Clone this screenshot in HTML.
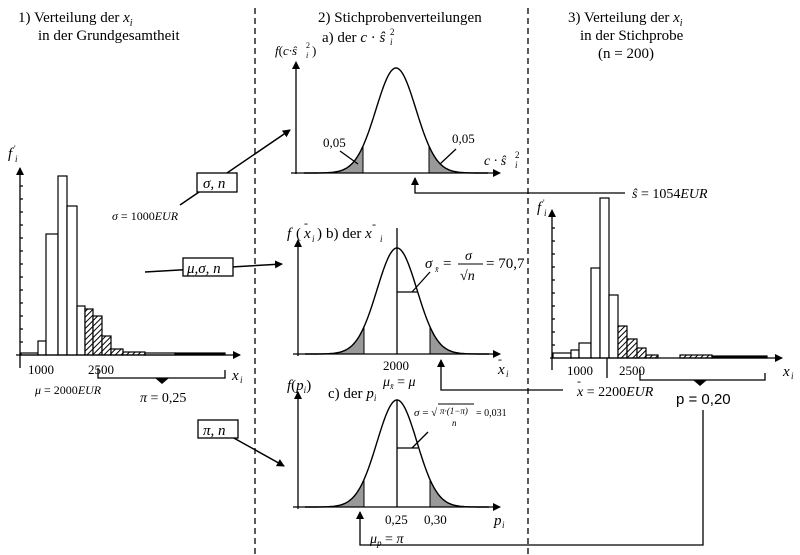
<!DOCTYPE html>
<html><head><meta charset="utf-8">
<style>
body{margin:0;background:#fff;}
svg{display:block;font-family:"Liberation Serif",serif;}
.i{font-style:italic}
</style></head><body>
<svg id="s" width="800" height="555" viewBox="0 0 800 555" xmlns="http://www.w3.org/2000/svg">
<defs>
<pattern id="h" width="4" height="4" patternUnits="userSpaceOnUse" patternTransform="rotate(45)"><rect width="4" height="4" fill="#fff"/><line x1="0" y1="0" x2="0" y2="4" stroke="#000" stroke-width="2"/></pattern>
<marker id="a" markerWidth="8" markerHeight="8" refX="7" refY="4" orient="auto" markerUnits="userSpaceOnUse"><path d="M0,0 L8,4 L0,8 z" fill="#000"/></marker>
</defs>
<rect width="800" height="555" fill="#fff"/>
<g stroke="#000" stroke-width="1.3" stroke-dasharray="6,4"><line x1="255" y1="8" x2="255" y2="555"/><line x1="528" y1="8" x2="528" y2="555"/></g>

<g font-size="15">
<text x="18" y="22">1) Verteilung der <tspan class="i">x</tspan><tspan class="i" font-size="10" dy="4">i</tspan></text>
<text x="38" y="40">in der Grundgesamtheit</text>
<text x="318" y="22">2) Stichprobenverteilungen</text>
<text x="322" y="42" font-size="15">a) der <tspan class="i">c</tspan> · <tspan class="i">ŝ</tspan></text><text x="390" y="35" font-size="9">2</text><text x="390" y="45" class="i" font-size="9">i</text>
<text x="568" y="22">3) Verteilung der  <tspan class="i">x</tspan><tspan class="i" font-size="10" dy="4">i</tspan></text>
<text x="580" y="40">in der Stichprobe</text>
<text x="598" y="58">(n = 200)</text>
</g>

<!-- left histogram -->
<g stroke="#000" stroke-width="1.2" fill="#fff">
<rect x="21" y="353" width="17" height="2"/>
<rect x="38" y="341" width="8" height="14"/>
<rect x="46" y="234" width="12" height="121"/>
<rect x="58" y="176" width="9" height="179"/>
<rect x="67" y="206" width="10" height="149"/>
<rect x="77" y="306" width="8" height="49"/>
<rect x="85" y="309" width="8" height="46" fill="url(#h)"/>
<rect x="93" y="316" width="9" height="39" fill="url(#h)"/>
<rect x="102" y="336" width="9" height="19" fill="url(#h)"/>
<rect x="111" y="349" width="12" height="6" fill="url(#h)"/>
<rect x="123" y="352" width="22" height="3" fill="url(#h)"/>
<rect x="145" y="353" width="30" height="2"/>
<rect x="175" y="353" width="50" height="2" fill="#000"/>
</g>
<g stroke="#000" stroke-width="1.3">
<line x1="20" y1="368" x2="20" y2="168" marker-end="url(#a)"/>
<line x1="16" y1="355" x2="240" y2="355" marker-end="url(#a)"/>
<path d="M20 342h3M20 329h3M20 316h3M20 303h3M20 290h3M20 277h3M20 264h3M20 251h3M20 238h3M20 225h3M20 212h3M20 199h3M20 186h3"/>
<polyline points="98,368 98,378 225,378 225,370" fill="none"/>
</g>
<path d="M155,378 L169,378 L162,384z" fill="#000"/>
<text x="8" y="158" class="i" font-size="15">f</text><text x="14" y="152" font-size="9">'</text><text x="15" y="162" class="i" font-size="9">i</text>
<text x="28" y="374" font-size="13">1000</text><text x="88" y="374" font-size="13">2500</text>
<text x="232" y="380" class="i" font-size="15">x</text><text x="240" y="383" class="i" font-size="9">i</text>
<text x="35" y="394" font-size="12"><tspan class="i">μ</tspan> = 2000<tspan class="i">EUR</tspan></text>
<text x="140" y="402" font-size="14"><tspan class="i">π</tspan> = 0,25</text>
<text x="112" y="220" font-size="12"><tspan class="i">σ</tspan> = 1000<tspan class="i">EUR</tspan></text>

<!-- arrows with boxes -->
<g stroke="#000" stroke-width="1.5">
<line x1="180" y1="205" x2="290" y2="130" marker-end="url(#a)"/>
<line x1="145" y1="272" x2="282" y2="264" marker-end="url(#a)"/>
<line x1="232" y1="437" x2="284" y2="466" marker-end="url(#a)"/>
</g>
<g stroke="#000" stroke-width="1.3" fill="#fff">
<rect x="197" y="173" width="40" height="19"/>
<rect x="183" y="258" width="50" height="18"/>
<rect x="198" y="420" width="40" height="18"/>
</g>
<g font-size="15" class="i">
<text x="203" y="188">σ, n</text>
<text x="187" y="273">μ,σ, n</text>
<text x="203" y="435">π, n</text>
</g>

<!-- curves -->
<g id="curves"></g>
<g stroke="#000" stroke-width="1.3" fill="none">
<line x1="296" y1="174" x2="296" y2="62" marker-end="url(#a)"/>
<line x1="291" y1="173" x2="500" y2="173" marker-end="url(#a)"/>
<line x1="298" y1="356" x2="298" y2="240" marker-end="url(#a)"/>
<line x1="293" y1="354" x2="500" y2="354" marker-end="url(#a)"/>
<line x1="397" y1="228" x2="397" y2="354"/>
<line x1="397" y1="292" x2="418" y2="292"/>
<line x1="412" y1="292" x2="430" y2="272"/>
<line x1="298" y1="509" x2="298" y2="392" marker-end="url(#a)"/>
<line x1="293" y1="507" x2="500" y2="507" marker-end="url(#a)"/>
<line x1="397" y1="400" x2="397" y2="507"/>
<line x1="397" y1="448" x2="418" y2="448"/>
<line x1="412" y1="448" x2="428" y2="432"/>
<line x1="340" y1="151" x2="358" y2="164"/>
<line x1="456" y1="149" x2="440" y2="164"/>
<polyline points="625,193 415,193 415,178" marker-end="url(#a)"/>
<polyline points="563,390 441,390 441,360" marker-end="url(#a)"/>
<polyline points="703,410 703,545 360,545 360,512" marker-end="url(#a)"/>
</g>
<text x="275" y="55" font-size="13"><tspan class="i">f</tspan>(<tspan class="i">c·ŝ</tspan></text><text x="306" y="48" font-size="8">2</text><text x="306" y="58" class="i" font-size="8">i</text><text x="312" y="55" font-size="13">)</text>
<text x="323" y="147" font-size="13">0,05</text><text x="452" y="143" font-size="13">0,05</text>
<text x="484" y="165" class="i" font-size="14">c · ŝ</text><text x="515" y="158" font-size="9">2</text><text x="515" y="168" class="i" font-size="9">i</text>
<text x="632" y="198" font-size="14"><tspan class="i">ŝ</tspan> = 1054<tspan class="i">EUR</tspan></text>

<text x="287" y="238" class="i" font-size="15">f</text><text x="296" y="238" font-size="15">(</text><text x="304" y="238" class="i" font-size="15">x</text><text x="304" y="227" font-size="12">-</text><text x="312" y="242" class="i" font-size="9">i</text><text x="317" y="238" font-size="15">)</text>
<text x="326" y="238" font-size="15">b) der <tspan class="i">x</tspan></text><text x="372" y="228" font-size="12">-</text><text x="380" y="242" class="i" font-size="9">i</text>
<text x="425" y="268" font-size="15"><tspan class="i">σ</tspan></text><text x="435" y="272" class="i" font-size="8">x̄</text><text x="443" y="268" font-size="15">=</text>
<line x1="458" y1="264" x2="483" y2="264" stroke="#000"/>
<text x="465" y="260" class="i" font-size="14">σ</text><text x="460" y="280" font-size="14">√<tspan class="i">n</tspan></text>
<text x="486" y="268" font-size="15">= 70,7</text>
<text x="383" y="370" font-size="13">2000</text>
<text x="383" y="386" font-size="14"><tspan class="i">μ</tspan><tspan class="i" font-size="8" dy="3">x̄</tspan><tspan dy="-3"> = </tspan><tspan class="i">μ</tspan></text>
<text x="498" y="374" class="i" font-size="15">x</text><text x="498" y="363" font-size="12">-</text><text x="506" y="377" class="i" font-size="9">i</text>

<text x="287" y="390" font-size="15"><tspan class="i">f</tspan>(<tspan class="i">p</tspan><tspan class="i" font-size="9" dy="3">i</tspan><tspan dy="-3">)</tspan></text>
<text x="328" y="398" font-size="15">c) der <tspan class="i">p</tspan><tspan class="i" font-size="9" dy="3">i</tspan></text>
<text x="414" y="416" font-size="11"><tspan class="i">σ</tspan> = √</text>
<line x1="438" y1="404" x2="474" y2="404" stroke="#000"/>
<text x="440" y="414" class="i" font-size="9">π·(1−π)</text>
<text x="452" y="426" class="i" font-size="9">n</text>
<text x="476" y="416" font-size="10">= 0,031</text>
<text x="385" y="524" font-size="13">0,25</text><text x="424" y="524" font-size="13">0,30</text>
<text x="494" y="525" class="i" font-size="15">p</text><text x="502" y="528" class="i" font-size="9">i</text>
<text x="370" y="543" font-size="14"><tspan class="i">μ</tspan><tspan class="i" font-size="9" dy="3">p</tspan><tspan dy="-3"> = </tspan><tspan class="i">π</tspan></text>

<!-- right histogram -->
<g stroke="#000" stroke-width="1.2" fill="#fff">
<rect x="553" y="353" width="18" height="5"/>
<rect x="571" y="350" width="8" height="8"/>
<rect x="579" y="343" width="12" height="15"/>
<rect x="591" y="268" width="9" height="90"/>
<rect x="600" y="198" width="9" height="160"/>
<rect x="609" y="295" width="9" height="63"/>
<rect x="618" y="326" width="9" height="32" fill="url(#h)"/>
<rect x="627" y="339" width="10" height="19" fill="url(#h)"/>
<rect x="637" y="348" width="9" height="10" fill="url(#h)"/>
<rect x="646" y="355" width="12" height="3" fill="url(#h)"/>
<rect x="680" y="355" width="32" height="3" fill="url(#h)"/>
<rect x="712" y="356" width="55" height="2" fill="#000"/>
</g>
<g stroke="#000" stroke-width="1.3" fill="none">
<line x1="552" y1="370" x2="552" y2="210" marker-end="url(#a)"/>
<line x1="550" y1="358" x2="782" y2="358" marker-end="url(#a)"/>
<path d="M552 345h3M552 332h3M552 319h3M552 306h3M552 293h3M552 280h3M552 267h3M552 254h3M552 241h3M552 228h3"/>
<line x1="607" y1="358" x2="607" y2="378"/>
<polyline points="640,370 640,380 765,380 765,373"/>
</g>
<path d="M693,380 L707,380 L700,386z" fill="#000"/>
<text x="537" y="212" class="i" font-size="15">f</text><text x="543" y="206" font-size="9">'</text><text x="544" y="216" class="i" font-size="9">i</text>
<text x="567" y="375" font-size="13">1000</text><text x="619" y="375" font-size="13">2500</text>
<text x="783" y="376" class="i" font-size="15">x</text><text x="791" y="379" class="i" font-size="9">i</text>
<text x="577" y="396" font-size="14"><tspan class="i">x</tspan> = 2200<tspan class="i">EUR</tspan></text><text x="577" y="385" font-size="12">-</text>
<text x="676" y="404" font-size="15" font-family="Liberation Sans, sans-serif">p = 0,20</text>
</svg>
<script>
(function(){
var g=document.getElementById('curves');var NS='http://www.w3.org/2000/svg';
function curve(cx,top,base,s){
 var h=base-top,d='',sh1='',sh2='',l=cx-1.65*s,r=cx+1.65*s;
 function y(x){return base-h*Math.exp(-Math.pow((x-cx)/s,2)/2);}
 for(var x=cx-4.6*s;x<=cx+4.6*s;x+=1){d+=(d?'L':'M')+x.toFixed(1)+','+y(x).toFixed(1);}
 sh1='M'+(cx-4.6*s)+','+base;for(var x=cx-4.6*s;x<=l;x+=1)sh1+='L'+x+','+y(x).toFixed(1);sh1+='L'+l+','+y(l)+'L'+l+','+base+'z';
 sh2='M'+r+','+base+'L'+r+','+y(r);for(var x=r;x<=cx+4.6*s;x+=1)sh2+='L'+x+','+y(x).toFixed(1);sh2+='L'+(cx+4.6*s)+','+base+'z';
 [sh1,sh2].forEach(function(p){var e=document.createElementNS(NS,'path');e.setAttribute('d',p);e.setAttribute('fill','#999');e.setAttribute('stroke','#000');e.setAttribute('stroke-width','1');g.appendChild(e);});
 var e=document.createElementNS(NS,'path');e.setAttribute('d',d);e.setAttribute('fill','none');e.setAttribute('stroke','#000');e.setAttribute('stroke-width','1.4');g.appendChild(e);
}
curve(396,68,173,20);curve(397,248,354,20);curve(397,400,507,20);
})();
</script>
</body></html>
